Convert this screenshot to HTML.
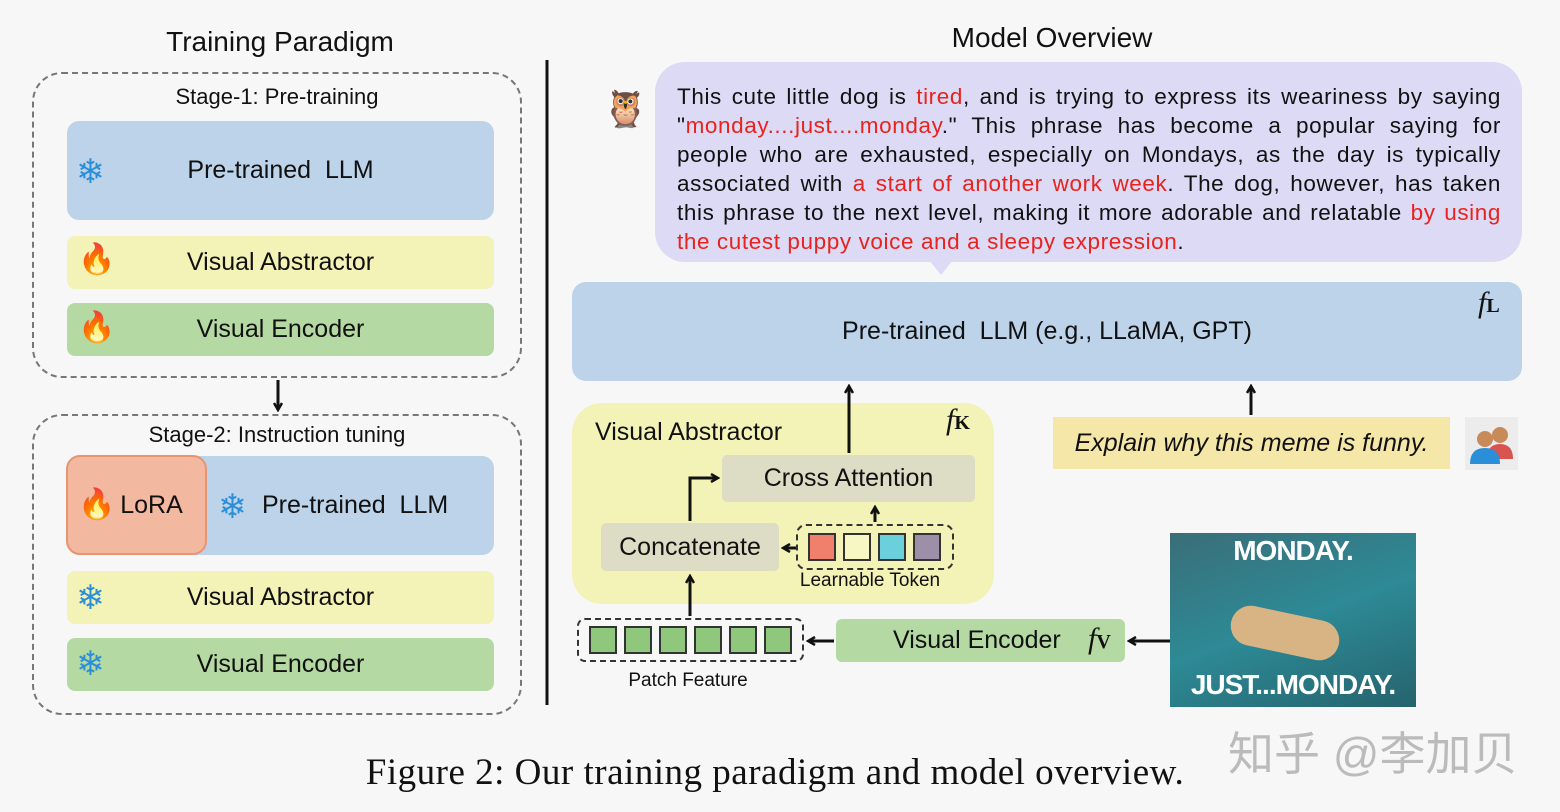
<!DOCTYPE html>
<html><head><meta charset="utf-8"><style>
body{margin:0;width:1560px;height:812px;background:#f7f7f7;position:relative;overflow:hidden;font-family:"Liberation Sans","DejaVu Sans",sans-serif;color:#111}
.a{position:absolute}
.box{position:absolute;display:flex;align-items:center;justify-content:center;font-size:25px}
.dash{position:absolute;border:2.5px dashed #777;border-radius:30px;box-sizing:border-box}
.ic{position:absolute;font-size:34px;line-height:1}
.sq{position:absolute;width:28px;height:28px;border:2px solid #333;box-sizing:border-box}
.r{color:#e8231d}
.f{font-family:"Liberation Serif",serif;font-style:italic;font-size:30px}
.f b{font-style:normal;font-size:20px}
</style></head><body>
<div class="a" style="left:80px;top:26px;width:400px;text-align:center;font-size:28px">Training Paradigm</div>
<div class="dash" style="left:32px;top:72px;width:490px;height:306px"></div>
<div class="a" style="left:32px;top:84px;width:490px;text-align:center;font-size:22px">Stage-1: Pre-training</div>
<div class="box" style="left:67px;top:121px;width:427px;height:99px;background:#bcd3ea;border-radius:12px">Pre-trained&nbsp; LLM</div>
<div class="ic" style="left:76px;top:155px;color:#2a8fd8">❄</div>
<div class="box" style="left:67px;top:236px;width:427px;height:53px;background:#f3f3b8;border-radius:8px">Visual Abstractor</div>
<div class="ic" style="left:78px;top:245px;font-size:30px;color:#e85a1e">🔥</div>
<div class="box" style="left:67px;top:303px;width:427px;height:53px;background:#b5d9a3;border-radius:8px">Visual Encoder</div>
<div class="ic" style="left:78px;top:313px;font-size:30px;color:#e85a1e">🔥</div>
<div class="dash" style="left:32px;top:414px;width:490px;height:301px"></div>
<div class="a" style="left:32px;top:422px;width:490px;text-align:center;font-size:22px">Stage-2: Instruction tuning</div>
<div class="box" style="left:67px;top:456px;width:427px;height:99px;background:#bcd3ea;border-radius:12px;justify-content:flex-start;padding-left:195px;box-sizing:border-box">Pre-trained&nbsp; LLM</div>
<div class="ic" style="left:218px;top:490px;color:#2a8fd8">❄</div>
<div class="box" style="left:66px;top:455px;width:141px;height:100px;background:#f2b8a0;border:2px solid #e8956f;border-radius:14px;box-sizing:border-box;padding-left:30px">LoRA</div>
<div class="ic" style="left:78px;top:490px;font-size:30px;color:#e85a1e">🔥</div>
<div class="box" style="left:67px;top:571px;width:427px;height:53px;background:#f3f3b8;border-radius:8px">Visual Abstractor</div>
<div class="ic" style="left:76px;top:581px;color:#2a8fd8">❄</div>
<div class="box" style="left:67px;top:638px;width:427px;height:53px;background:#b5d9a3;border-radius:8px">Visual Encoder</div>
<div class="ic" style="left:76px;top:647px;color:#2a8fd8">❄</div>

<div class="a" style="left:852px;top:22px;width:400px;text-align:center;font-size:28px">Model Overview</div>
<div class="a" style="left:603px;top:88px;font-size:36px">🦉</div>
<div class="a" style="left:655px;top:62px;width:867px;height:200px;background:#dcdaf5;border-radius:30px"></div>
<div class="a" style="left:925px;top:255px;width:0;height:0;border-left:16px solid transparent;border-right:16px solid transparent;border-top:20px solid #dcdaf5"></div>
<div class="a" style="left:677px;top:82px;width:824px;font-size:22.5px;letter-spacing:0.6px;line-height:29px;text-align:justify">This cute little dog is <span class="r">tired</span>, and is trying to express its weariness by saying "<span class="r">monday....just....monday</span>." This phrase has become a popular saying for people who are exhausted, especially on Mondays, as the day is typically associated with <span class="r">a start of another work week</span>. The dog, however, has taken this phrase to the next level, making it more adorable and relatable <span class="r">by using the cutest puppy voice and a sleepy expression</span>.</div>
<div class="box" style="left:572px;top:282px;width:950px;height:99px;background:#bcd3ea;border-radius:14px">Pre-trained&nbsp; LLM (e.g., LLaMA, GPT)</div>
<div class="a f" style="left:1478px;top:286px">f<b>L</b></div>
<div class="a" style="left:572px;top:403px;width:422px;height:201px;background:#f3f3b8;border-radius:30px"></div>
<div class="a" style="left:595px;top:418px;font-size:25px">Visual Abstractor</div>
<div class="a f" style="left:946px;top:403px">f<b>K</b></div>
<div class="box" style="left:722px;top:455px;width:253px;height:47px;background:#dddcc4;border-radius:5px">Cross Attention</div>
<div class="box" style="left:601px;top:523px;width:178px;height:48px;background:#dddcc4;border-radius:5px">Concatenate</div>
<div class="a" style="left:796px;top:524px;width:158px;height:46px;border:2px dashed #333;border-radius:10px;box-sizing:border-box"></div>
<div class="sq" style="left:808px;top:533px;background:#f07f6c"></div>
<div class="sq" style="left:843px;top:533px;background:#f7f7c4"></div>
<div class="sq" style="left:878px;top:533px;background:#6ccfdc"></div>
<div class="sq" style="left:913px;top:533px;background:#9d8fa8"></div>
<div class="a" style="left:780px;top:570px;width:180px;text-align:center;font-size:19px">Learnable Token</div>
<div class="a" style="left:577px;top:618px;width:227px;height:44px;border:2px dashed #333;border-radius:8px;box-sizing:border-box"></div>
<div class="sq" style="left:589px;top:626px;background:#8fc87c"></div>
<div class="sq" style="left:624px;top:626px;background:#8fc87c"></div>
<div class="sq" style="left:659px;top:626px;background:#8fc87c"></div>
<div class="sq" style="left:694px;top:626px;background:#8fc87c"></div>
<div class="sq" style="left:729px;top:626px;background:#8fc87c"></div>
<div class="sq" style="left:764px;top:626px;background:#8fc87c"></div>
<div class="a" style="left:598px;top:670px;width:180px;text-align:center;font-size:19px">Patch Feature</div>
<div class="box" style="left:836px;top:619px;width:289px;height:43px;background:#b5d9a3;border-radius:6px;justify-content:flex-start;padding-left:57px;box-sizing:border-box">Visual Encoder</div>
<div class="a f" style="left:1088px;top:622px">f<b>V</b></div>
<div class="box" style="left:1053px;top:417px;width:397px;height:52px;background:#f5e7a8;font-style:italic">Explain why this meme is funny.</div>
<svg class="a" style="left:1465px;top:417px" width="53" height="53"><rect width="53" height="53" fill="#ececec"/><circle cx="35" cy="18" r="8" fill="#c98a5a"/><path d="M22 42 Q22 27 35 27 Q48 27 48 42Z" fill="#d95350"/><circle cx="20" cy="22" r="8" fill="#c98a5a"/><path d="M5 47 Q5 31 20 31 Q35 31 35 47Z" fill="#2a8fd8"/></svg>
<div class="a" style="left:1170px;top:533px;width:246px;height:174px;background:linear-gradient(160deg,#3a6e78,#2d8a96 50%,#25636d);overflow:hidden">
<div class="a" style="left:60px;top:80px;width:110px;height:40px;background:#d8b485;border-radius:40px;transform:rotate(12deg)"></div>
<div class="a" style="left:0;top:2px;width:246px;text-align:center;color:#fff;font-weight:bold;font-size:28px;font-family:'Liberation Sans Narrow','Liberation Sans',sans-serif;letter-spacing:-1px">MONDAY.</div>
<div class="a" style="left:0;top:136px;width:246px;text-align:center;color:#fff;font-weight:bold;font-size:28px;font-family:'Liberation Sans Narrow','Liberation Sans',sans-serif;letter-spacing:-1px">JUST...MONDAY.</div>
</div>
<svg class="a" style="left:0;top:0" width="1560" height="812">
<defs><marker id="m" markerWidth="10" markerHeight="10" refX="8" refY="5" orient="auto" markerUnits="userSpaceOnUse"><path d="M1,1 L8,5 L1,9" fill="none" stroke="#111" stroke-width="2.5"/></marker></defs>
<g stroke="#111" stroke-width="3" fill="none" marker-end="url(#m)">
<line x1="278" y1="380" x2="278" y2="410"/>
<line x1="849" y1="453" x2="849" y2="386"/>
<line x1="1251" y1="415" x2="1251" y2="386"/>
<polyline points="690,521 690,478 718,478"/>
<line x1="690" y1="616" x2="690" y2="576"/>
<line x1="875" y1="522" x2="875" y2="507"/>
<line x1="796" y1="548" x2="783" y2="548"/>
<line x1="834" y1="641" x2="808" y2="641"/>
<line x1="1170" y1="641" x2="1129" y2="641"/>
</g>
<line x1="547" y1="60" x2="547" y2="705" stroke="#111" stroke-width="3"/>
</svg>
<div class="a" style="left:0;top:751px;width:1550px;text-align:center;font-family:'Liberation Serif',serif;font-size:37px;letter-spacing:0.5px">Figure 2: Our training paradigm and model overview.</div>
<div class="a" style="left:1228px;top:718px;font-size:46px;color:#bbb;font-family:'Liberation Sans','Noto Sans CJK SC',sans-serif">知乎 @李加贝</div>
</body></html>
